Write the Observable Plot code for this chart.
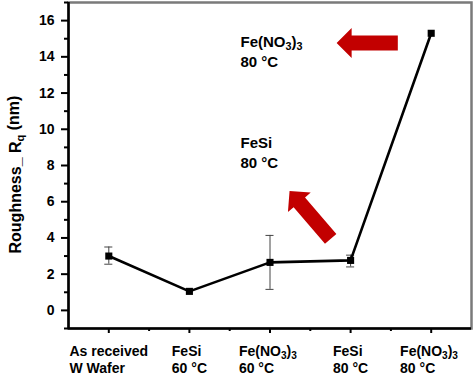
<!DOCTYPE html>
<html>
<head>
<meta charset="utf-8">
<script src="https://cdn.jsdelivr.net/npm/d3@7"></script>
<script src="https://cdn.jsdelivr.net/npm/@observablehq/plot@0.6"></script>
<style>
  body { margin: 0; background: #fff; }
</style>
</head>
<body>
<div id="chart"></div>
<script>
// ---- data ----
const positions  = [1, 2, 3, 4, 5];
const categories = ["As received\nW Wafer", "FeSi\n60 °C", "Fe(NO₃)₃\n60 °C", "FeSi\n80 °C", "Fe(NO₃)₃\n80 °C"];
const roughness  = [3.0, 1.05, 2.65, 2.76, 15.3];
const errLow     = [2.55, 1.05, 1.16, 2.4, 15.3];
const errHigh    = [3.5, 1.05, 4.14, 3.05, 15.3];
const yTicks     = [0, 2, 4, 6, 8, 10, 12, 14, 16];
const yMinor     = [-1, 1, 3, 5, 7, 9, 11, 13, 15, 17];
const xMinor     = [1.5, 2.5, 3.5, 4.5];

const noteX    = [2.634, 2.634];
const noteY    = [15.34, 9.77];
const noteText = ["Fe(NO₃)₃\n80 °C", "FeSi\n80 °C"];

const arrowTailX = [4.592, 3.759];
const arrowTailY = [14.73, 3.92];
const arrowTipX  = [3.833, 3.249];
const arrowTipY  = [14.73, 6.57];

const yLabel = "Roughness_ Rq (nm)";

// ---- tables ----
const points = positions.map((x, i) => ({x, y: roughness[i], lo: errLow[i], hi: errHigh[i], label: categories[i]}));
const errs = points.filter(d => d.hi > d.lo);
const notes = noteText.map((t, i) => ({x: noteX[i], y: noteY[i], text: t}));

// left-aligned two-line tick labels, block centred on the tick
const FONT = "'Liberation Sans', Arial, sans-serif";
const ctx = document.createElement("canvas").getContext("2d");
ctx.font = `bold 14px ${FONT}`;
const labelShift = categories.map(c => -d3.max(c.split("\n"), s => ctx.measureText(s.replace(/₃/g, "3")).width) / 2);

const arrowMark = (index, scales) => {
  const g = d3.create("svg:g").attr("aria-label", "arrows");
  const hl = 15, hw = 15, sw = 7.5;
  for (let i = 0; i < arrowTipX.length; i++) {
    const x1 = scales.x(arrowTailX[i]), y1 = scales.y(arrowTailY[i]);
    const x2 = scales.x(arrowTipX[i]),  y2 = scales.y(arrowTipY[i]);
    const dx = x2 - x1, dy = y2 - y1, L = Math.hypot(dx, dy);
    const ux = dx / L, uy = dy / L, nx = -uy, ny = ux;
    const bx = x2 - ux * hl, by = y2 - uy * hl;
    const pts = [
      [x1 + nx * sw, y1 + ny * sw],
      [bx + nx * sw, by + ny * sw],
      [bx + nx * hw, by + ny * hw],
      [x2, y2],
      [bx - nx * hw, by - ny * hw],
      [bx - nx * sw, by - ny * sw],
      [x1 - nx * sw, y1 - ny * sw]
    ];
    g.append("polygon").attr("points", pts.map(p => p.join(",")).join(" ")).attr("fill", "#c20000");
  }
  return g.node();
};

const plot = Plot.plot({
  width: 474,
  height: 380,
  marginLeft: 68,
  marginRight: 3,
  marginTop: 2,
  marginBottom: 52,
  style: {fontFamily: FONT, background: "#fff", color: "#000"},
  x: {type: "linear", domain: [0.5, 5.5]},
  y: {domain: [-1, 17]},
  marks: [
    Plot.frame({stroke: "#7a7a7a", strokeWidth: 2.5}),
    Plot.axisY(yMinor, {tickSize: 4, tickFormat: () => "", strokeWidth: 2, label: null}),
    Plot.axisY(yTicks, {tickSize: 7, tickPadding: 7, fontSize: 14, fontWeight: "bold", strokeWidth: 2, label: null}),
    Plot.axisX(xMinor, {tickSize: 3, tickFormat: () => "", strokeWidth: 2, label: null}),
    Plot.axisX(positions, {tickSize: 5, tickFormat: () => "", strokeWidth: 2, label: null}),
    ...points.map((p, i) => Plot.text([p], {x: "x", frameAnchor: "bottom", text: "label", textAnchor: "start",
      lineAnchor: "top", dy: 15, dx: labelShift[i], fontSize: 14, fontWeight: "bold", lineHeight: 1.22, fill: "#000"})),
    Plot.ruleX([0.5], {stroke: "#000", strokeWidth: 2.5}),
    Plot.ruleY([-1], {stroke: "#000", strokeWidth: 2.5}),
    Plot.ruleX(errs, {x: "x", y1: "lo", y2: "hi", stroke: "#444", strokeWidth: 1}),
    Plot.ruleY(errs, {y: "lo", x1: d => d.x - 0.05, x2: d => d.x + 0.05, stroke: "#444", strokeWidth: 1}),
    Plot.ruleY(errs, {y: "hi", x1: d => d.x - 0.05, x2: d => d.x + 0.05, stroke: "#444", strokeWidth: 1}),
    Plot.line(points, {x: "x", y: "y", stroke: "#000", strokeWidth: 2.6}),
    Plot.dot(points, {x: "x", y: "y", symbol: "square", r: 4, fill: "#000", stroke: "none"}),
    Plot.text(notes, {x: "x", y: "y", text: "text", textAnchor: "start", lineAnchor: "top",
      fontSize: 15, fontWeight: "bold", lineHeight: 1.35, fill: "#000"}),
    arrowMark,
    Plot.text([yLabel], {frameAnchor: "left", y: [7.5], text: d => d, rotate: -90, dx: -53,
      textAnchor: "middle", lineAnchor: "middle", fontSize: 16, fontWeight: "bold", fill: "#000"})
  ]
});

document.getElementById("chart").appendChild(plot);

// subscript q in the y-axis label
for (const t of plot.querySelectorAll("text")) {
  if (t.textContent === yLabel) {
    t.textContent = "";
    const sel = d3.select(t);
    sel.append("tspan").text("Roughness_ R");
    sel.append("tspan").attr("font-size", 11).attr("dy", "0.35em").text("q");
    sel.append("tspan").attr("dy", "-0.35em").text(" (nm)");
  }
}

// real subscript 3 (lowered, smaller) instead of the fallback glyph
for (const el of plot.querySelectorAll("text, tspan")) {
  if (el.children.length === 0 && el.textContent.includes("₃")) {
    const parts = el.textContent.split("₃");
    el.textContent = "";
    const sel = d3.select(el);
    parts.forEach((s, k) => {
      if (s) sel.append("tspan").text(s);
      if (k < parts.length - 1) {
        sel.append("tspan").attr("font-size", "0.72em").attr("baseline-shift", "-0.25em").text("3");
      }
    });
  }
}
</script>
</body>
</html>
